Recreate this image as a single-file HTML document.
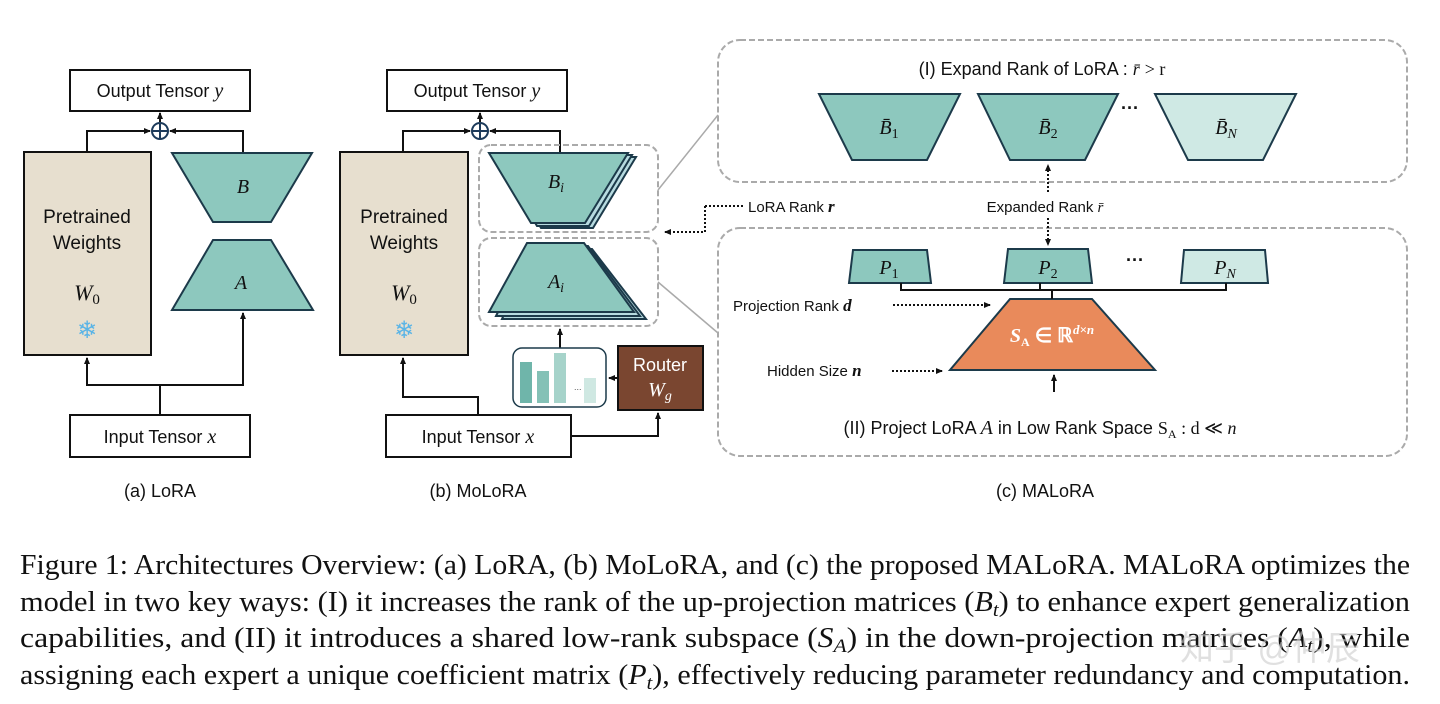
<!DOCTYPE html>
<html><head><meta charset="utf-8"><style>
html,body{margin:0;padding:0;background:#fff;}
svg{display:block;}
text{font-family:"Liberation Sans","DejaVu Sans",sans-serif;}
.s{font-family:"Liberation Serif",serif;}
</style></head><body>
<svg width="1440" height="704" viewBox="0 0 1440 704" xmlns="http://www.w3.org/2000/svg">
<defs>
<marker id="ar" markerWidth="8" markerHeight="8" refX="6" refY="4" orient="auto" markerUnits="userSpaceOnUse"><path d="M0,1 L7,4 L0,7 z" fill="#111"/></marker>
</defs>
<g stroke="#111" stroke-width="2" fill="none">
<!-- (a) -->
<rect x="70" y="70" width="180" height="41" fill="#fff"/>
<rect x="70" y="415" width="180" height="42" fill="#fff"/>
<rect x="24" y="152" width="127" height="203" fill="#e7dfcf"/>
<polygon points="172,153 312,153 271,222 213,222" fill="#8dc8be" stroke="#1c3a4a"/>
<polygon points="213,240 271,240 313,310 172,310" fill="#8dc8be" stroke="#1c3a4a"/>
<polyline points="87,152 87,131 150,131" marker-end="url(#ar)"/>
<polyline points="243,152 243,131 170,131" marker-end="url(#ar)"/>
<line x1="160" y1="122" x2="160" y2="113" marker-end="url(#ar)"/>
<circle cx="160" cy="131" r="8" stroke="#1c3a5a" fill="#fff"/>
<line x1="152" y1="131" x2="168" y2="131" stroke="#1c3a5a"/><line x1="160" y1="123" x2="160" y2="139" stroke="#1c3a5a"/>
<polyline points="160,415 160,385 87,385 87,358" marker-end="url(#ar)"/>
<polyline points="160,385 243,385 243,313" marker-end="url(#ar)"/>
<!-- (b) -->
<rect x="387" y="70" width="180" height="41" fill="#fff"/>
<rect x="386" y="415" width="185" height="42" fill="#fff"/>
<rect x="340" y="152" width="128" height="203" fill="#e7dfcf"/>
<polyline points="403,152 403,131 470,131" marker-end="url(#ar)"/>
<polyline points="560,152 560,131 490,131" marker-end="url(#ar)"/>
<line x1="480" y1="122" x2="480" y2="113" marker-end="url(#ar)"/>
<circle cx="480" cy="131" r="8" stroke="#1c3a5a" fill="#fff"/>
<line x1="472" y1="131" x2="488" y2="131" stroke="#1c3a5a"/><line x1="480" y1="123" x2="480" y2="139" stroke="#1c3a5a"/>
<polyline points="478,415 478,397 403,397 403,358" marker-end="url(#ar)"/>
<polyline points="571,436 658,436 658,413" marker-end="url(#ar)"/>
<rect x="479" y="145" width="179" height="87" rx="12" stroke="#aaa" stroke-dasharray="6,3" stroke-width="2"/>
<rect x="479" y="238" width="179" height="88" rx="12" stroke="#aaa" stroke-dasharray="6,3" stroke-width="2"/>
<polygon points="499,157 636,157 593,228 541,228" fill="#b7dbe0" stroke="#1c3a4a"/>
<polygon points="495,155 632,155 589,226 537,226" fill="#b7dbe0" stroke="#1c3a4a"/>
<polygon points="489,153 628,153 585,223 531,223" fill="#8dc8be" stroke="#1c3a4a"/>
<polygon points="535,249 592,249 646,319 502,319" fill="#b7dbe0" stroke="#1c3a4a"/>
<polygon points="531,246 588,246 640,316 496,316" fill="#b7dbe0" stroke="#1c3a4a"/>
<polygon points="527,243 584,243 634,312 489,312" fill="#8dc8be" stroke="#1c3a4a"/>
<line x1="560" y1="348" x2="560" y2="329" marker-end="url(#ar)"/>
<rect x="513" y="348" width="93" height="59" rx="9" stroke="#1c3a4a" stroke-width="1.5" fill="#fff"/>
<rect x="618" y="346" width="85" height="64" fill="#7a4630" stroke="#111"/>
<line x1="618" y1="378" x2="609" y2="378" marker-end="url(#ar)"/>
</g>
<g stroke="none">
<rect x="520" y="362" width="12" height="41" fill="#6fb5aa"/>
<rect x="537" y="371" width="12" height="32" fill="#84c1b6"/>
<rect x="554" y="353" width="12" height="50" fill="#a6d3ca"/>
<rect x="584" y="378" width="12" height="25" fill="#cfe8e2"/>
</g>
<text x="574" y="390" font-size="9" fill="#555">...</text>
<!-- (c) -->
<g fill="none">
<line x1="658" y1="190" x2="718" y2="115" stroke="#aaa" stroke-width="1.5"/>
<line x1="658" y1="282" x2="718" y2="333" stroke="#aaa" stroke-width="1.5"/>
<rect x="718" y="40" width="689" height="142" rx="22" stroke="#aaa" stroke-width="2" stroke-dasharray="6,3"/>
<rect x="718" y="228" width="689" height="228" rx="22" stroke="#aaa" stroke-width="2" stroke-dasharray="6,3"/>
<g stroke="#1c3a4a" stroke-width="2">
<polygon points="819,94 960,94 927,160 852,160" fill="#8dc8be"/>
<polygon points="978,94 1118,94 1085,160 1010,160" fill="#8dc8be"/>
<polygon points="1155,94 1296,94 1263,160 1188,160" fill="#cfe9e4"/>
<polygon points="853,250 927,250 931,283 849,283" fill="#8dc8be"/>
<polygon points="1008,249 1088,249 1092,283 1004,283" fill="#8dc8be"/>
<polygon points="1184,250 1265,250 1268,283 1181,283" fill="#cfe9e4"/>
</g>
<polygon points="1010,299 1092,299 1155,370 950,370" fill="#e98a5b" stroke="#1c3a4a" stroke-width="2"/>
<g stroke="#111" stroke-width="2">
<polyline points="901,283 901,290 1226,290 1226,283"/>
<line x1="1040" y1="283" x2="1040" y2="290"/>
<line x1="1052" y1="290" x2="1052" y2="299"/>
<line x1="1054" y1="392" x2="1054" y2="375" marker-end="url(#ar)"/>
</g>
<g stroke="#111" stroke-width="2" stroke-dasharray="2,2">
<line x1="1048" y1="192" x2="1048" y2="165" marker-end="url(#ar)"/>
<line x1="1048" y1="218" x2="1048" y2="245" marker-end="url(#ar)"/>
<polyline points="705,206 745,206"/>
<polyline points="705,206 705,232 665,232" marker-end="url(#ar)"/>
<line x1="893" y1="305" x2="990" y2="305" marker-end="url(#ar)"/>
<line x1="892" y1="371" x2="942" y2="371" marker-end="url(#ar)"/>
</g>
</g>
<!-- texts -->
<g font-size="18" fill="#111">
<text x="160" y="97" text-anchor="middle">Output Tensor <tspan class="s" font-style="italic" font-size="20">y</tspan></text>
<text x="160" y="443" text-anchor="middle">Input Tensor <tspan class="s" font-style="italic" font-size="20">x</tspan></text>
<text x="477" y="97" text-anchor="middle">Output Tensor <tspan class="s" font-style="italic" font-size="20">y</tspan></text>
<text x="478" y="443" text-anchor="middle">Input Tensor <tspan class="s" font-style="italic" font-size="20">x</tspan></text>
<text x="87" y="223" text-anchor="middle" font-size="19">Pretrained</text>
<text x="87" y="249" text-anchor="middle" font-size="19">Weights</text>
<text x="404" y="223" text-anchor="middle" font-size="19">Pretrained</text>
<text x="404" y="249" text-anchor="middle" font-size="19">Weights</text>
<text x="87" y="300" text-anchor="middle" class="s" font-style="italic" font-size="22">W<tspan font-size="15" font-style="normal" dy="4">0</tspan></text>
<text x="404" y="300" text-anchor="middle" class="s" font-style="italic" font-size="22">W<tspan font-size="15" font-style="normal" dy="4">0</tspan></text>
<text x="87" y="338" text-anchor="middle" font-size="24" fill="#5ab4e6">❄</text>
<text x="404" y="338" text-anchor="middle" font-size="24" fill="#5ab4e6">❄</text>
<text x="243" y="193" text-anchor="middle" class="s" font-style="italic" font-size="20">B</text>
<text x="241" y="289" text-anchor="middle" class="s" font-style="italic" font-size="20">A</text>
<text x="556" y="188" text-anchor="middle" class="s" font-style="italic" font-size="20">B<tspan font-size="14" dy="4">i</tspan></text>
<text x="556" y="288" text-anchor="middle" class="s" font-style="italic" font-size="20">A<tspan font-size="14" dy="4">i</tspan></text>
<text x="660" y="371" text-anchor="middle" fill="#fff">Router</text>
<text x="660" y="396" text-anchor="middle" class="s" font-style="italic" font-size="20" fill="#fff">W<tspan font-size="14" dy="4">g</tspan></text>
<text x="160" y="497" text-anchor="middle">(a) LoRA</text>
<text x="478" y="497" text-anchor="middle">(b) MoLoRA</text>
<text x="1045" y="497" text-anchor="middle">(c) MALoRA</text>
<text x="1042" y="75" text-anchor="middle">(I) Expand Rank of LoRA : <tspan class="s" font-style="italic">r̄</tspan> <tspan class="s">&gt; r</tspan></text>
<text x="889" y="134" text-anchor="middle" class="s" font-style="italic" font-size="20">B̄<tspan font-size="14" font-style="normal" dy="4">1</tspan></text>
<text x="1048" y="134" text-anchor="middle" class="s" font-style="italic" font-size="20">B̄<tspan font-size="14" font-style="normal" dy="4">2</tspan></text>
<text x="1226" y="134" text-anchor="middle" class="s" font-style="italic" font-size="20">B̄<tspan font-size="14" dy="4">N</tspan></text>
<text x="1130" y="114" text-anchor="middle" font-weight="bold">···</text>
<text x="1135" y="266" text-anchor="middle" font-weight="bold">···</text>
<text x="889" y="274" text-anchor="middle" class="s" font-style="italic" font-size="20">P<tspan font-size="14" font-style="normal" dy="4">1</tspan></text>
<text x="1048" y="274" text-anchor="middle" class="s" font-style="italic" font-size="20">P<tspan font-size="14" font-style="normal" dy="4">2</tspan></text>
<text x="1225" y="274" text-anchor="middle" class="s" font-style="italic" font-size="20">P<tspan font-size="14" dy="4">N</tspan></text>
<text x="1045" y="212" text-anchor="middle" font-size="15">Expanded Rank <tspan class="s" font-style="italic">r̄</tspan></text>
<text x="748" y="212" font-size="15">LoRA Rank <tspan class="s" font-style="italic" font-weight="bold" font-size="17">r</tspan></text>
<text x="733" y="311" font-size="15">Projection Rank <tspan class="s" font-style="italic" font-weight="bold" font-size="17">d</tspan></text>
<text x="767" y="376" font-size="15">Hidden Size <tspan class="s" font-style="italic" font-weight="bold" font-size="17">n</tspan></text>
<text x="1052" y="342" text-anchor="middle" class="s" font-weight="bold" font-size="20" fill="#fff"><tspan font-style="italic">S</tspan><tspan font-size="12" dy="4">A</tspan><tspan dy="-4"> ∈ ℝ</tspan><tspan font-size="13" dy="-8" font-style="italic">d×n</tspan></text>
<text x="1040" y="434" text-anchor="middle">(II) Project LoRA <tspan class="s" font-style="italic" font-size="20">A</tspan> in Low Rank Space <tspan class="s">S<tspan font-size="12" dy="4">A</tspan><tspan dy="-4"> : d ≪ </tspan><tspan font-style="italic">n</tspan></tspan></text>
</g>
<g class="s" font-size="28" fill="#111">
<text class="s" x="20" y="574" textLength="1390" lengthAdjust="spacingAndGlyphs">Figure 1: Architectures Overview: (a) LoRA, (b) MoLoRA, and (c) the proposed MALoRA. MALoRA optimizes the</text>
<text class="s" x="20" y="611" textLength="1390" lengthAdjust="spacingAndGlyphs">model in two key ways: (I) it increases the rank of the up-projection matrices (<tspan font-style="italic">B<tspan font-size="19" dy="5">t</tspan></tspan><tspan dy="-5">) to enhance expert generalization</tspan></text>
<text class="s" x="20" y="647" textLength="1390" lengthAdjust="spacingAndGlyphs">capabilities, and (II) it introduces a shared low-rank subspace (<tspan font-style="italic">S<tspan font-size="19" dy="5">A</tspan></tspan><tspan dy="-5">) in the down-projection matrices (</tspan><tspan font-style="italic">A<tspan font-size="19" dy="5">t</tspan></tspan><tspan dy="-5">), while</tspan></text>
<text class="s" x="20" y="684" textLength="1390" lengthAdjust="spacingAndGlyphs">assigning each expert a unique coefficient matrix (<tspan font-style="italic">P<tspan font-size="19" dy="5">t</tspan></tspan><tspan dy="-5">), effectively reducing parameter redundancy and computation.</tspan></text>
</g>
<text x="1180" y="660" font-size="34" fill="#ccc" opacity="0.6" style="font-family:'Liberation Sans','Noto Sans CJK SC',sans-serif">知乎 @仲辰</text>
</svg>
</body></html>
